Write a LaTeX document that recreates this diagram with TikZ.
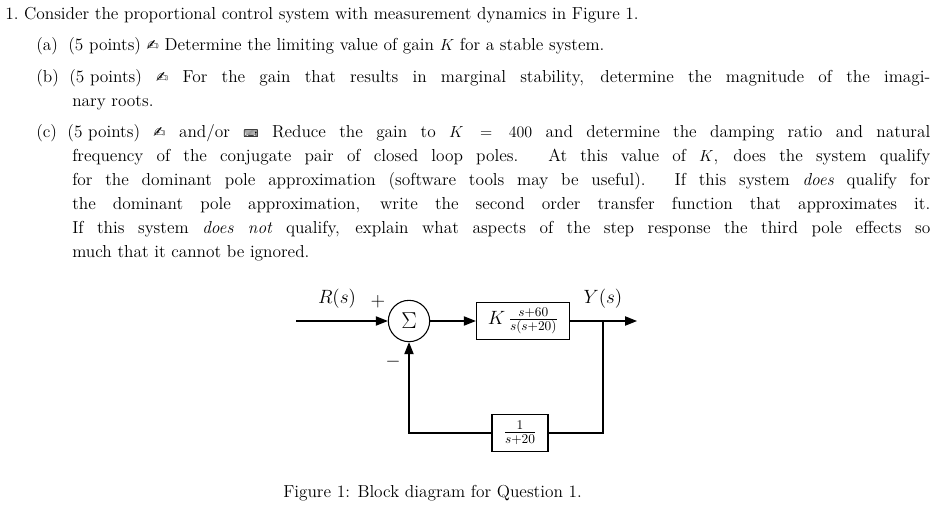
\documentclass[tikz,border=0pt]{standalone}
\usepackage{fontspec}
\newfontfamily\symf{DejaVu Sans}
\usetikzlibrary{arrows.meta}
\newcommand{\wh}{{\symf\fontsize{11}{12}\selectfont ✍}}
\newcommand{\kb}{{\symf\fontsize{8}{10}\selectfont ⌨}}
\newcommand{\lab}[1]{\mbox{#1\hspace{0.6em}(5 points)}}
\begin{document}
\begin{tikzpicture}[x=0.75pt,y=-0.75pt,
  ln/.style={anchor=base west,inner sep=0pt,font=\fontsize{13}{16}\selectfont},
  blk/.style={draw,line width=0.8pt,minimum height=28pt,inner sep=3pt,font=\fontsize{14}{16}\selectfont},
  sig/.style={line width=0.8pt,-{Triangle[length=9pt,width=7pt]}},
  wire/.style={line width=0.8pt},
  lbl/.style={font=\fontsize{14}{16}\selectfont}]
\useasboundingbox (0,0) rectangle (949,514);
\node[ln] (l1) at (5,19) {1.\ Consider the proportional control system with measurement dynamics in Figure 1.};
\node[ln] (la) at (36,50) {\lab{(a)} \wh\ Determine the limiting value of gain $K$ for a stable system.};
\node[ln] (lb) at (36,82) {\makebox[894\dimexpr0.75pt][s]{\lab{(b)} \wh\ For the gain that results in marginal stability, determine the magnitude of the imagi-}};
\node[ln] (lb2) at (72,106) {nary roots.};
\node[ln] (lc) at (36,137) {\makebox[894\dimexpr0.75pt][s]{\lab{(c)} \wh\ and/or \kb\ Reduce the gain to $K=400$ and determine the damping ratio and natural}};
\node[ln] (lc2) at (72,161) {\makebox[858\dimexpr0.75pt][s]{frequency of the conjugate pair of closed loop poles. At this value of $K$, does the system qualify}};
\node[ln] (lc3) at (72,185) {\makebox[858\dimexpr0.75pt][s]{for the dominant pole approximation (software tools may be useful). If this system \textit{does} qualify for}};
\node[ln] (lc4) at (72,209) {\makebox[858\dimexpr0.75pt][s]{the dominant pole approximation, write the second order transfer function that approximates it.}};
\node[ln] (lc5) at (72,233) {\makebox[858\dimexpr0.75pt][s]{If this system \textit{does not} qualify, explain what aspects of the step response the third pole effects so}};
\node[ln] (lc6) at (72,257) {much that it cannot be ignored.};
\node[ln] (cap) at (283,497) {Figure 1: Block diagram for Question 1.};

\node[draw,circle,line width=0.8pt,minimum size=31pt,inner sep=0pt,font=\fontsize{18}{20}\selectfont] (sum) at (409,321) {$\Sigma$};
\node[blk,minimum width=70pt] (G) at (523,321) {$K\,\frac{s+60}{s(s+20)}$};
\node[blk,minimum width=42pt] (H) at (520,433) {$\frac{1}{s+20}$};
\coordinate (in) at (296,321);
\coordinate (br) at (603,321);
\coordinate (out) at (637,321);
\coordinate (fb) at (409,433);
\draw[sig] (in) -- (sum);
\draw[sig] (sum) -- (G);
\draw[wire] (G) -- (br);
\draw[sig] (br) -- (out);
\draw[wire] (br) |- (H);
\draw[sig] (H) -- (fb) -- (sum);
\node[lbl] (lr) at (337,299) {$R(s)$};
\node[lbl] (ly) at (603,299) {$Y(s)$};
\node[lbl] (pl) at (378,302) {$+$};
\node[lbl] (mi) at (393,362) {$-$};
\end{tikzpicture}
\end{document}
